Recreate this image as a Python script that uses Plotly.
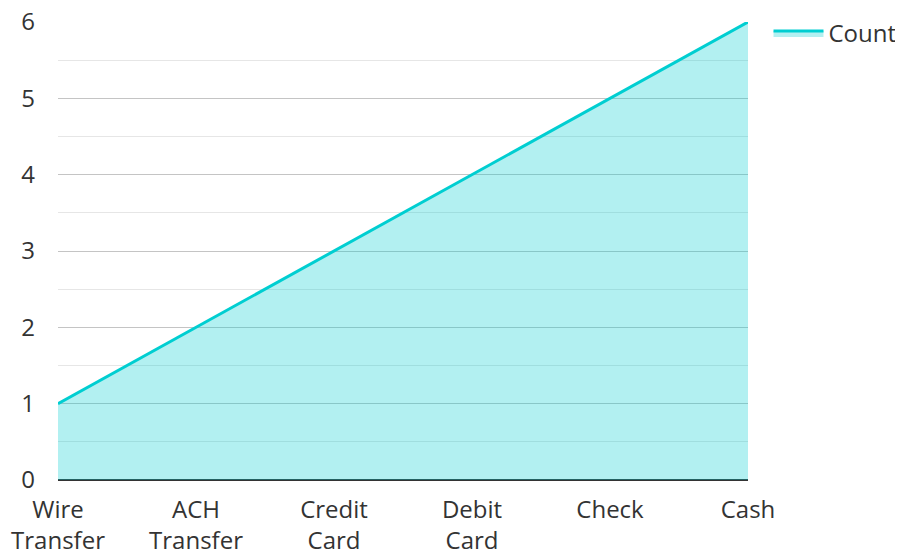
import plotly.graph_objects as go

categories = ["Wire<br>Transfer", "ACH<br>Transfer", "Credit<br>Card", "Debit<br>Card", "Check", "Cash"]
counts = [1, 2, 3, 4, 5, 6]
y_ticks = [0, 1, 2, 3, 4, 5, 6]

fig = go.Figure()
fig.add_trace(go.Scatter(
    x=categories, y=counts, name="Count", mode="lines",
    line=dict(color="#00CED1", width=3),
    fill="tozeroy", fillcolor="rgba(0,206,209,0.3)",
))

fs = 24
fig.update_layout(
    width=903, height=551,
    margin=dict(l=50, r=163, t=14, b=79),
    paper_bgcolor="white", plot_bgcolor="white",
    font=dict(family="Open Sans", size=fs, color="#333333"),
    showlegend=True,
    legend=dict(xref="container", yref="container", x=0.8422, y=0.9946,
                xanchor="left", yanchor="top",
                font=dict(size=fs, color="#333333"), itemwidth=50),
    xaxis=dict(range=[0, 5], showgrid=False, showline=False, zeroline=False, automargin=False,
               ticks="", ticklabelstandoff=13, ticklabeloverflow="allow",
               tickfont=dict(size=fs, color="#333333")),
    yaxis=dict(range=[0, 6], tickvals=y_ticks, showgrid=True, gridcolor="#c4c4c4", gridwidth=1,
               zeroline=True, zerolinecolor="#333333", zerolinewidth=2, automargin=False,
               showline=False, ticks="", ticklabelstandoff=22, ticklabeloverflow="allow",
               tickfont=dict(size=fs, color="#333333"),
               minor=dict(dtick=0.5, showgrid=True, gridcolor="#e6e6e6", gridwidth=1)),
)

fig.write_html("out.html")
